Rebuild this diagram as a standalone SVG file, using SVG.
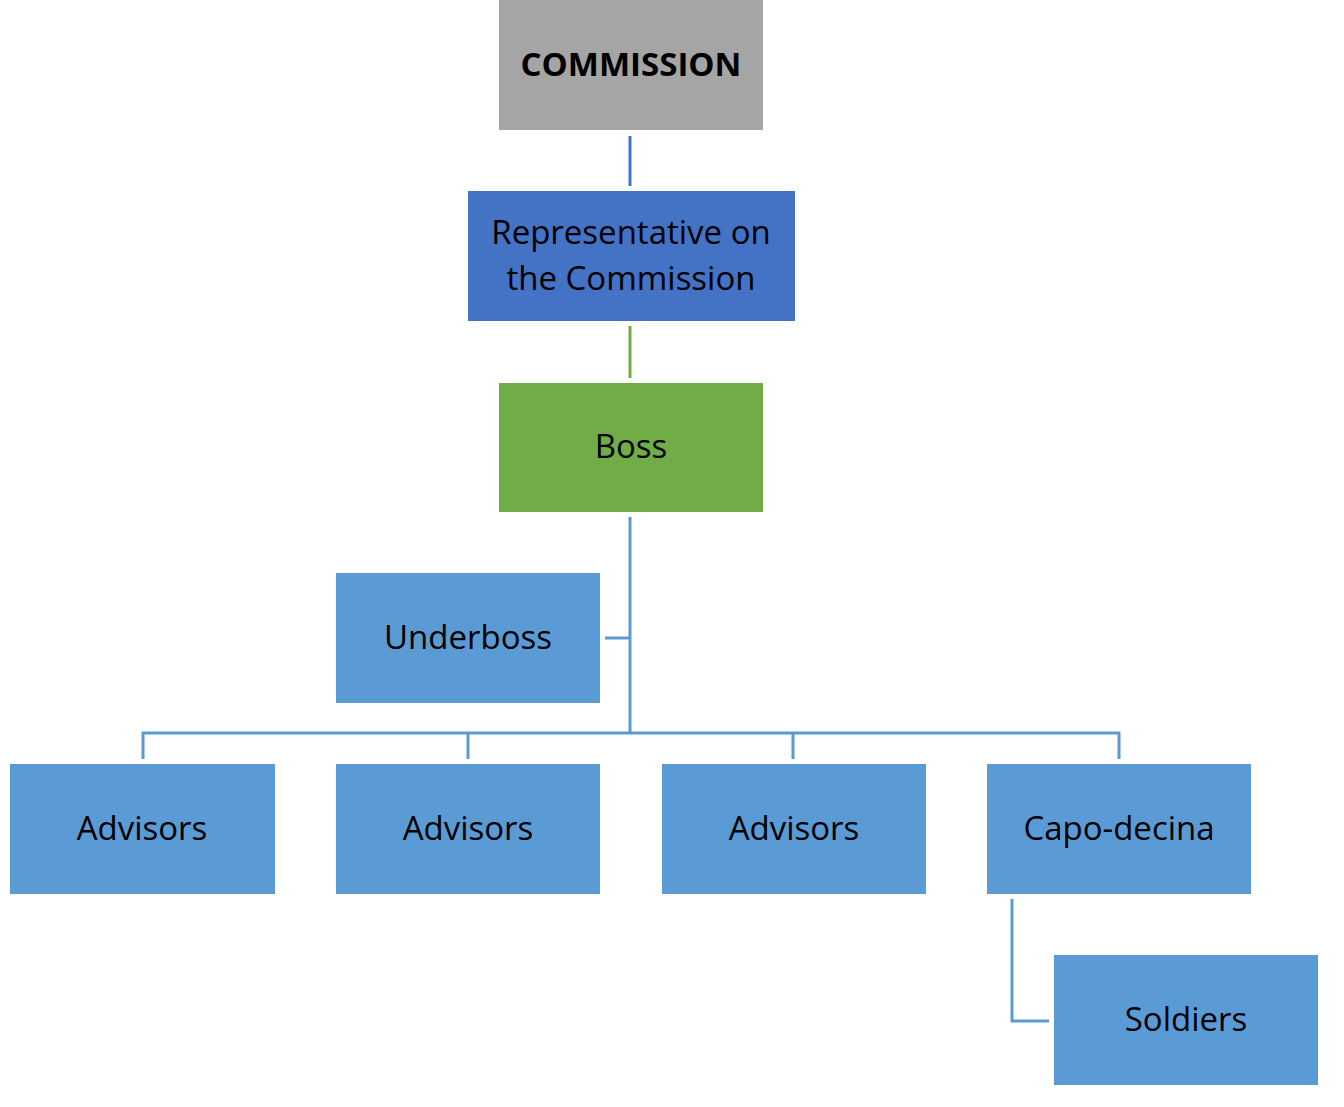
<svg xmlns="http://www.w3.org/2000/svg" width="1344" height="1107" viewBox="0 0 1344 1107">
<style>
text{font-family:"Open Sans","Liberation Sans",sans-serif;font-size:33px;fill:#000;text-anchor:middle}
.c{fill:none;stroke:#5b9bd5;stroke-width:3}
.lb{fill:#5b9bd5}
</style>
<rect width="1344" height="1107" fill="#fff"/>
<g id="connectors">
<line x1="630" y1="136" x2="630" y2="186" stroke="#4472c4" stroke-width="3"/>
<line x1="630" y1="326" x2="630" y2="378" stroke="#70ad47" stroke-width="3"/>
<path class="c" d="M630 517V733M605 638H630M143 759V733H1119V759M468 733V759M793 733V759M1012 899V1021H1049"/>
</g>
<g id="commission"><rect x="499" y="0" width="264" height="130" fill="#a5a5a5"/><text x="631" y="76" font-weight="bold">COMMISSION</text></g>
<g id="rep"><rect x="468" y="191" width="327" height="130" fill="#4472c4"/><text x="631" y="244">Representative on</text><text x="631" y="290">the Commission</text></g>
<g id="boss"><rect x="499" y="383" width="264" height="129" fill="#70ad47"/><text x="631" y="458">Boss</text></g>
<g id="underboss"><rect class="lb" x="336" y="573" width="264" height="130"/><text x="468" y="649">Underboss</text></g>
<g id="adv1"><rect class="lb" x="10" y="764" width="265" height="130"/><text x="142" y="840">Advisors</text></g>
<g id="adv2"><rect class="lb" x="336" y="764" width="264" height="130"/><text x="468" y="840">Advisors</text></g>
<g id="adv3"><rect class="lb" x="662" y="764" width="264" height="130"/><text x="794" y="840">Advisors</text></g>
<g id="capo"><rect class="lb" x="987" y="764" width="264" height="130"/><text x="1119" y="840">Capo-decina</text></g>
<g id="soldiers"><rect class="lb" x="1054" y="955" width="264" height="130"/><text x="1186" y="1031">Soldiers</text></g>
</svg>
